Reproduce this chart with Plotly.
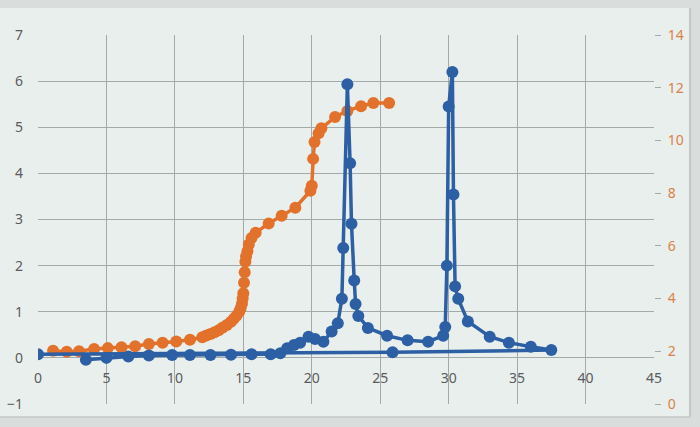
import plotly.graph_objects as go

# --- dữ liệu ---
# chuỗi xanh (trục trái, -1..7)
blue_x = [3.5, 5.0, 6.6, 8.1, 9.8, 11.1, 12.6, 14.1, 15.6, 17.0, 17.7, 18.2, 18.7, 19.15,
          19.76, 20.24, 20.85, 21.45, 21.9, 22.2, 22.3, 22.6, 22.8, 22.9, 23.1, 23.2, 23.4,
          24.1, 25.5, 27.0, 28.5, 29.6, 29.75, 29.87, 30.0, 30.27, 30.35, 30.47, 30.7, 31.4,
          33.0, 34.4, 36.0, 37.5, 25.9, 0.0]
blue_y = [-0.04, 0.0, 0.03, 0.05, 0.06, 0.06, 0.06, 0.07, 0.08, 0.08, 0.1, 0.21, 0.28, 0.33,
          0.46, 0.41, 0.35, 0.57, 0.75, 1.28, 2.38, 5.93, 4.22, 2.91, 1.68, 1.17, 0.91,
          0.65, 0.48, 0.38, 0.35, 0.48, 0.67, 2.0, 5.45, 6.2, 3.54, 1.55, 1.28, 0.79,
          0.46, 0.33, 0.24, 0.17, 0.12, 0.08]

# chuỗi cam (trục phải, 0..14)
orange_x = [1.1, 2.1, 3.0, 4.1, 5.1, 6.1, 7.1, 8.1, 9.1, 10.1, 11.1, 12.0, 12.3, 12.6, 12.9,
            13.2, 13.5, 13.8, 14.1, 14.3, 14.5, 14.7, 14.8, 14.9, 14.95, 15.0, 15.05, 15.1,
            15.15, 15.2, 15.3, 15.4, 15.6, 15.9, 16.85, 17.8, 18.8, 19.9, 20.0, 20.1, 20.2,
            20.5, 20.7, 21.7, 22.6, 23.6, 24.5, 25.65]
orange_y = [2.02, 1.98, 2.0, 2.09, 2.12, 2.15, 2.19, 2.28, 2.32, 2.37, 2.44, 2.53, 2.6, 2.66,
            2.72, 2.8, 2.9, 3.0, 3.12, 3.23, 3.35, 3.5, 3.62, 3.8, 4.0, 4.2, 4.6, 5.0,
            5.4, 5.6, 5.8, 6.05, 6.3, 6.5, 6.85, 7.14, 7.45, 8.09, 8.28, 9.3, 9.94,
            10.27, 10.46, 10.89, 11.12, 11.3, 11.42, 11.42]

x_ticks = [0, 5, 10, 15, 20, 25, 30, 35, 40, 45]
left_ticks = [-1, 0, 1, 2, 3, 4, 5, 6, 7]
right_ticks = [0, 2, 4, 6, 8, 10, 12, 14]

BLUE = '#2c5fa3'
ORANGE = '#e2722b'
GRID = '#a3abaa'
BG = '#e9efed'
EDGE = '#d9dedc'

fig = go.Figure()

fig.add_trace(go.Scatter(
    x=orange_x, y=orange_y, yaxis='y',
    mode='lines+markers', line=dict(color=ORANGE, width=3.5),
    marker=dict(color=ORANGE, size=12), showlegend=False
))

fig.add_trace(go.Scatter(
    x=blue_x, y=blue_y, yaxis='y2',
    mode='lines+markers', line=dict(color=BLUE, width=3.5),
    marker=dict(color=BLUE, size=12), showlegend=False
))

# viền khung biểu đồ trong ảnh chụp (dải trên, phải, dưới)
fig.add_shape(type='rect', xref='paper', yref='paper', x0=-0.07, x1=1.08, y0=1.073, y1=1.1,
              fillcolor=EDGE, line=dict(width=0), layer='below')
fig.add_shape(type='rect', xref='paper', yref='paper', x0=1.0584, x1=1.08, y0=-0.07, y1=1.1,
              fillcolor=EDGE, line=dict(width=0), layer='below')
fig.add_shape(type='rect', xref='paper', yref='paper', x0=-0.07, x1=1.08, y0=-0.07, y1=-0.035,
              fillcolor=EDGE, line=dict(width=0), layer='below')
fig.add_shape(type='line', xref='paper', yref='paper', x0=1.0584, x1=1.0584, y0=-0.035, y1=1.073,
              line=dict(color='#b9bfbd', width=1.5))
fig.add_shape(type='line', xref='paper', yref='paper', x0=-0.07, x1=1.0584, y0=-0.035, y1=-0.035,
              line=dict(color='#c3c8c6', width=1.5))

fig.update_layout(
    width=700, height=427,
    margin=dict(l=38, r=46, t=35, b=23),
    paper_bgcolor=BG, plot_bgcolor=BG,
    font=dict(family='Noto Sans', size=14, color='#5b5b5b'),
    xaxis=dict(
        range=[0, 45], tickvals=x_ticks, showgrid=True, gridcolor=GRID, gridwidth=1,
        zeroline=False, showline=False, anchor='free', position=0.125,
        ticks='', ticklabelstandoff=10, automargin=False
    ),
    # trục phải cho chuỗi cam
    yaxis=dict(
        range=[0, 14], tickvals=right_ticks, side='right', showgrid=False,
        zeroline=False, showline=False, ticks='outside', ticklen=6, tickcolor=GRID,
        tickfont=dict(color='#d98245'), ticklabelstandoff=4, automargin=False
    ),
    # trục trái cho chuỗi xanh
    yaxis2=dict(
        range=[-1, 7], tickvals=left_ticks, side='left', overlaying='y',
        showgrid=True, gridcolor=GRID, gridwidth=1, zeroline=False, showline=False,
        ticks='', ticklabelstandoff=14, automargin=False
    ),
)

fig.write_html("out.html", config={'displayModeBar': False},
               post_script="document.body.style.margin='0';")
